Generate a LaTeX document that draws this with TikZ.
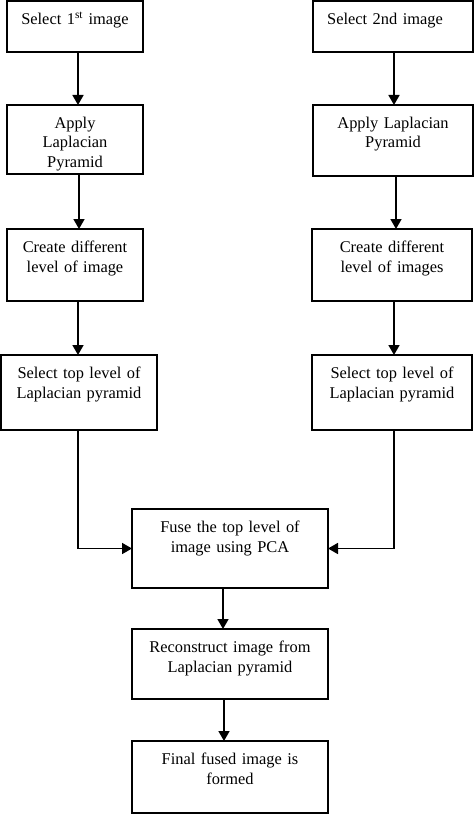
\documentclass[tikz,border=0pt]{standalone}
\usepackage{fontspec}
\setmainfont{Liberation Serif}
\usetikzlibrary{arrows.meta,calc}
\begin{document}
\begin{tikzpicture}[x=1pt,y=-1pt,
  box/.style={draw,line width=1.8pt,inner sep=0pt,outer sep=0pt},
  txt/.style={inner sep=0pt,anchor=base,align=center,font=\fontsize{16.4}{19.5}\selectfont},
  arr/.style={line width=1.7pt,-{Triangle[width=11pt,length=10pt]}}]
\useasboundingbox (0,0) rectangle (474,837);
% left column
\node[box,minimum width=136pt,minimum height=51pt] (a1) at (75,26.5) {};
\node[box,minimum width=136pt,minimum height=69pt] (a2) at (75,139.5) {};
\node[box,minimum width=136pt,minimum height=72pt] (a3) at (75,265) {};
\node[box,minimum width=156pt,minimum height=75pt] (a4) at (79,392.5) {};
% right column
\node[box,minimum width=160pt,minimum height=51pt] (b1) at (393,26.5) {};
\node[box,minimum width=160pt,minimum height=71pt] (b2) at (393,140.5) {};
\node[box,minimum width=160pt,minimum height=72pt] (b3) at (392,265) {};
\node[box,minimum width=160pt,minimum height=75pt] (b4) at (392,392.5) {};
% centre
\node[box,minimum width=196pt,minimum height=79pt] (fuse) at (230,548.5) {};
\node[box,minimum width=196pt,minimum height=70pt] (rec) at (230,664) {};
\node[box,minimum width=196pt,minimum height=72pt] (fin) at (230,777) {};
% texts
\node[txt,text width=130pt] (a1t) at ($(a1.north)+(0,23.5)$) {Select 1\textsuperscript{st} image};
\node[txt,text width=130pt] (a2t) at ($(a2.north)+(0,23.5)$) {Apply\\Laplacian\\Pyramid};
\node[txt,text width=130pt] (a3t) at ($(a3.north)+(0,23.5)$) {Create different\\level of image};
\node[txt,text width=150pt] (a4t) at ($(a4.north)+(0,23.5)$) {Select top level of\\Laplacian pyramid};
\node[txt,text width=150pt] (b1t) at ($(b1.north)+(-8,23.5)$) {Select 2nd image};
\node[txt,text width=150pt] (b2t) at ($(b2.north)+(0,23.5)$) {Apply Laplacian\\Pyramid};
\node[txt,text width=150pt] (b3t) at ($(b3.north)+(0,23.5)$) {Create different\\level of images};
\node[txt,text width=150pt] (b4t) at ($(b4.north)+(0,23.5)$) {Select top level of\\Laplacian pyramid};
\node[txt,text width=190pt] (fuset) at ($(fuse.north)+(0,23.5)$) {Fuse the top level of\\image using PCA};
\node[txt,text width=190pt] (rect) at ($(rec.north)+(0,23.5)$) {Reconstruct image from\\Laplacian pyramid};
\node[txt,text width=190pt] (fint) at ($(fin.north)+(0,23.5)$) {Final fused image is\\formed};
% connectors
\draw[arr] ([xshift=3pt]a1.south) -- ([xshift=3pt]a1.south |- a2.north);
\draw[arr] ([xshift=4pt]a2.south) -- ([xshift=4pt]a2.south |- a3.north);
\draw[arr] ([xshift=3pt]a3.south) -- ([xshift=3pt]a3.south |- a4.north);
\draw[arr] ([xshift=1pt]b1.south) -- ([xshift=1pt]b1.south |- b2.north);
\draw[arr] ([xshift=3pt]b2.south) -- ([xshift=3pt]b2.south |- b3.north);
\draw[arr] ([xshift=2pt]b3.south) -- ([xshift=2pt]b3.south |- b4.north);
\draw[arr] ([xshift=-1pt]a4.south) |- (fuse.west);
\draw[arr] ([xshift=2pt]b4.south) |- (fuse.east);
\draw[arr] ([xshift=-7pt]fuse.south) -- ([xshift=-7pt]fuse.south |- rec.north);
\draw[arr] ([xshift=-6pt]rec.south) -- ([xshift=-6pt]rec.south |- fin.north);
\end{tikzpicture}
\end{document}
